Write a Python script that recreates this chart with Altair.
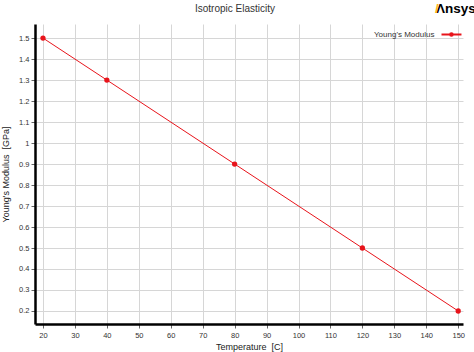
import altair as alt
import pandas as pd

temperature = [20, 40, 80, 120, 150]
youngs_modulus = [1.5, 1.3, 0.9, 0.5, 0.2]
series = ["Young's Modulus"] * 5
x_ticks = [20, 30, 40, 50, 60, 70, 80, 90, 100, 110, 120, 130, 140, 150]
y_ticks = [0.2, 0.3, 0.4, 0.5, 0.6, 0.7, 0.8, 0.9, 1.0, 1.1, 1.2, 1.3, 1.4, 1.5]

df = pd.DataFrame({"T": temperature, "E": youngs_modulus, "s": series})

FONT = "Liberation Sans"

x = alt.X("T:Q", scale=alt.Scale(domain=[17.5, 151.5], nice=False, zero=False),
          axis=alt.Axis(values=x_ticks, title="Temperature\u00a0 [C]", format="d"))
y = alt.Y("E:Q", scale=alt.Scale(domain=[0.138, 1.567], nice=False, zero=False),
          axis=alt.Axis(values=y_ticks, title="Young's Modulus\u00a0 [GPa]", format="~g"))

# legend symbol drawn to the right of its label (shifted custom path)
sym = "M8.1,0H10.05M8.95,0a0.12,0.12 0 1,0 0.24,0a0.12,0.12 0 1,0 -0.24,0Z"
color = alt.Color("s:N", scale=alt.Scale(range=["#e8141b"]),
                  legend=alt.Legend(title=None, orient="none", legendX=312, legendY=-1,
                                    padding=0, symbolType=sym,
                                    symbolSize=420, symbolStrokeWidth=2.2,
                                    symbolStrokeColor="#e8141b", symbolFillColor="#e8141b",
                                    labelOffset=4,
                                    labelFont=FONT, labelFontSize=8, labelColor="#333333"))

line = alt.Chart(df).mark_line(strokeWidth=1).encode(x=x, y=y, color=color)
pts = alt.Chart(df).mark_circle(size=28, opacity=1, color="#e8141b").encode(x=x, y=y)

logo_df = pd.DataFrame({"t": ["Ansys"]})
logo = alt.Chart(logo_df).mark_text(font=FONT, fontWeight="bold", fontSize=13.5, align="left",
                                     baseline="middle", color="#000000").encode(
    x=alt.value(401), y=alt.value(-15), text=alt.value("\u039bnsys"))
logo_slash = alt.Chart(logo_df).mark_text(font=FONT, fontWeight="bold", fontSize=13.5, align="left",
                                           baseline="middle", color="#ffb71b").encode(
    x=alt.value(400), y=alt.value(-15), text=alt.value("/"))

chart = alt.layer(line, pts, logo, logo_slash).properties(
    width=428, height=300,
    title=alt.TitleParams("Isotropic Elasticity", font=FONT, fontSize=10, fontWeight="normal",
                          color="#333333", offset=0, dx=-14, dy=12),
    autosize=alt.AutoSizeParams(type="none"),
    padding={"left": 35, "top": 24, "right": 11, "bottom": 28},
).configure_view(stroke=None).configure_axis(
    labelFont=FONT, labelFontSize=7.5, labelColor="#333333",
    titleFont=FONT, titleFontSize=9, titleFontWeight="normal", titleColor="#222222",
    gridColor="#d6d6d6", gridWidth=1, domainColor="#000000", domainWidth=2.5,
    tickColor="#666666", tickSize=4,
).configure_axisX(titlePadding=4, labelPadding=3).configure_axisY(titlePadding=8, labelPadding=2)

chart.save("out.html", embed_options={"renderer": "svg", "actions": False})
